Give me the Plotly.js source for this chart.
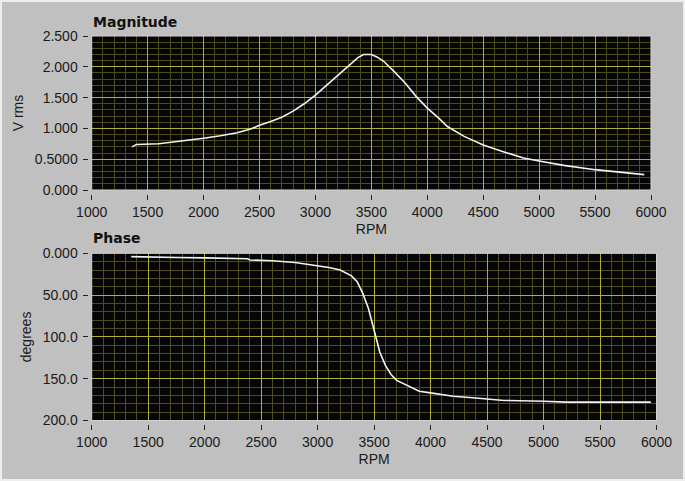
<!DOCTYPE html>
<html><head><meta charset="utf-8">
<script src="https://cdn.plot.ly/plotly-3.0.1.min.js"></script>
<style>html,body{margin:0;padding:0;background:#c0c0c0;}#chart{width:685px;height:481px;}</style>
</head><body><div id="chart"></div>
<script>
const magRpm  = [1360,1400,1600,1800,2000,2150,2300,2420,2500,2600,2700,2800,2900,3000,3100,3200,3300,3380,3430,3500,3550,3610,3700,3800,3900,4000,4100,4180,4330,4500,4700,4860,5000,5220,5500,5670,5940];
const magVrms = [0.70,0.74,0.75,0.79,0.84,0.88,0.93,0.99,1.05,1.11,1.18,1.28,1.40,1.54,1.70,1.86,2.02,2.15,2.20,2.20,2.16,2.09,1.93,1.74,1.52,1.33,1.17,1.03,0.87,0.73,0.61,0.52,0.47,0.40,0.33,0.30,0.25];
const phaseRpm = [1350,1500,1650,1700,1750,2000,2200,2380,2400,2600,2800,3000,3100,3200,3300,3350,3400,3450,3490,3520,3550,3600,3650,3700,3800,3900,4000,4200,4400,4650,5000,5100,5200,5500,5950];
const phaseDeg = [4,4.5,4.5,5.5,5,5.5,6,6.5,8,9,11,15,17,20,27,34,48,66,86,102,118,134,145,152,159,165,167,171,173,176,177,177.5,178,178,178];
const rpmTicks = [1000,1500,2000,2500,3000,3500,4000,4500,5000,5500,6000];
const rpmTickText = ["1000","1500","2000","2500","3000","3500","4000","4500","5000","5500","6000"];
const magTickVals = [0,0.5,1,1.5,2,2.5];
const magTickText = ["0.000","0.5000","1.000","1.500","2.000","2.500"];
const phaseTickVals = [0,50,100,150,200];
const phaseTickText = ["0.000","50.00","100.0","150.0","200.0"];

const W = 685, H = 481;
const tickFont = {family:'Liberation Sans, Arial, sans-serif', size:14, color:'#1a1a1a'};
const majorGrid = '#b0b038', minorGrid = '#4e4a1c';

// grid-only axes (minor divisions) carrying the data
function minorAxis(dom, range, tick0, dt, anchor) {
  return {domain: dom, anchor: anchor, range: range.slice(), tickmode:'linear', tick0: tick0, dtick: dt,
    showticklabels:false, ticks:'', showgrid:true, gridcolor: minorGrid, gridwidth:1,
    zeroline:false, showline:false};
}
// labelled axes (major divisions), overlaid on the grid-only axes
function xMajor(over, pos, dom) {
  return {
    overlaying: over, domain: dom, anchor:'free', position: pos,
    range: [1000,6000], tickmode:'array', tickvals: rpmTicks, ticktext: rpmTickText,
    ticks:'outside', ticklen:5, tickwidth:1, tickcolor:'#222',
    showgrid:true, gridcolor: majorGrid, gridwidth:1, zeroline:false, showline:false,
    tickfont: tickFont, ticklabelstandoff: 0,
    title:{text:'RPM', font: tickFont, standoff: 5}
  };
}
function yMajor(over, dom, range, vals, text, title) {
  return {
    overlaying: over, domain: dom, anchor:'free', position: 87.5/W, side:'left',
    range: range.slice(), tickmode:'array', tickvals: vals, ticktext: text,
    ticks:'outside', ticklen:5, tickwidth:1, tickcolor:'#222',
    showgrid:true, gridcolor: majorGrid, gridwidth:1, zeroline:false, showline:false,
    tickfont: tickFont, ticklabelstandoff: 2,
    title:{text:title, font: tickFont, standoff: 6}
  };
}

const domX1 = [91.7/W, 651/W], domX2 = [91.7/W, 656.5/W];
const domY1 = [1-190/H, 1-36/H], domY2 = [1-420.5/H, 1-253.3/H];

const data = [
  {x: magRpm, y: magVrms, xaxis:'x', yaxis:'y', type:'scatter', mode:'lines',
   line:{color:'#f2f2f2', width:1.6}, hoverinfo:'skip'},
  {x: phaseRpm, y: phaseDeg, xaxis:'x2', yaxis:'y2', type:'scatter', mode:'lines',
   line:{color:'#f2f2f2', width:1.6}, hoverinfo:'skip'},
  // empty traces so the labelled overlay axes are created
  {x: [], y: [], xaxis:'x3', yaxis:'y3', type:'scatter', mode:'lines', hoverinfo:'skip'},
  {x: [], y: [], xaxis:'x4', yaxis:'y4', type:'scatter', mode:'lines', hoverinfo:'skip'}
];

const layout = {
  width: W, height: H, margin:{l:0,r:0,t:0,b:0},
  paper_bgcolor:'#c0c0c0', plot_bgcolor:'#060606', showlegend:false,
  xaxis:  minorAxis(domX1, [1000,6000], 1000, 100, 'y'),
  yaxis:  minorAxis(domY1, [0,2.5], 0, 0.1, 'x'),
  xaxis2: minorAxis(domX2, [1000,6000], 1000, 100, 'y2'),
  yaxis2: minorAxis(domY2, [200,0], 0, 10, 'x2'),
  xaxis3: xMajor('x', 1-194/H, domX1),
  yaxis3: yMajor('y', domY1, [0,2.5], magTickVals, magTickText, 'V rms'),
  xaxis4: xMajor('x2', 1-424/H, domX2),
  yaxis4: yMajor('y2', domY2, [200,0], phaseTickVals, phaseTickText, 'degrees'),
  annotations:[
    {text:'Magnitude', xref:'paper', yref:'paper', x:91/W, y:1-22/H, xanchor:'left', yanchor:'middle', showarrow:false,
     font:{family:'DejaVu Sans, sans-serif', size:14, weight:'bold', color:'#111'}},
    {text:'Phase', xref:'paper', yref:'paper', x:91/W, y:1-238/H, xanchor:'left', yanchor:'middle', showarrow:false,
     font:{family:'DejaVu Sans, sans-serif', size:14, weight:'bold', color:'#111'}}
  ],
  shapes:[
    {type:'rect', xref:'x domain', yref:'y domain', x0:0, x1:1, y0:0, y1:1, line:{color:'#d4d4d4', width:1}},
    {type:'rect', xref:'x2 domain', yref:'y2 domain', x0:0, x1:1, y0:0, y1:1, line:{color:'#d4d4d4', width:1}},
    {type:'rect', xref:'paper', yref:'paper', x0:0, x1:1, y0:0, y1:1, line:{color:'#eeeeee', width:4}}
  ]
};
Plotly.newPlot('chart', data, layout, {staticPlot:true, displayModeBar:false});
</script></body></html>
